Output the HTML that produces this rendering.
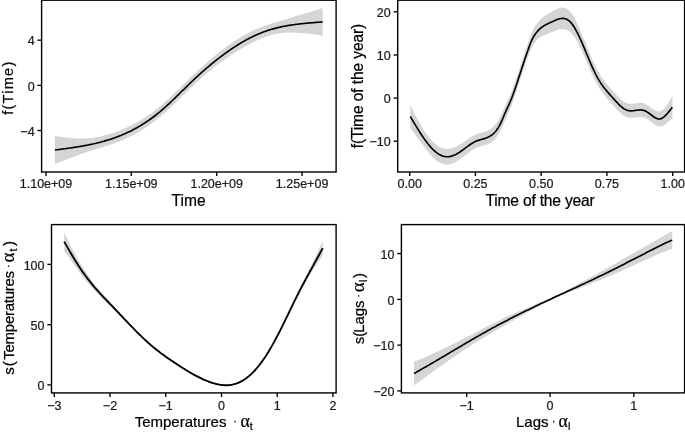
<!DOCTYPE html>
<html lang="en">
<head>
<meta charset="utf-8">
<title>Smooth effects</title>
<style>
html,body{margin:0;padding:0;background:#fff;}
body{width:685px;height:433px;overflow:hidden;}
svg{display:block;}
text{font-family:"Liberation Sans", sans-serif;}
.tk{font-size:12.5px;fill:#1a1a1a;stroke:#1a1a1a;stroke-width:0.22px;}
.tt{font-size:15.6px;fill:#000000;stroke:#000000;stroke-width:0.22px;}
.sub{font-size:11px;}
</style>
</head>
<body>
<svg width="685" height="433" viewBox="0 0 685 433">
<rect x="0" y="0" width="685" height="433" fill="#fff"/>
<polygon fill="#d5d5d5" points="54.9,135.8 55.9,136.0 56.9,136.2 57.9,136.3 58.9,136.5 59.9,136.7 60.9,136.8 61.9,137.0 62.9,137.1 63.9,137.2 64.9,137.4 65.9,137.5 66.9,137.6 67.9,137.7 68.9,137.8 69.9,137.9 70.9,138.0 71.9,138.1 72.9,138.1 73.9,138.2 74.9,138.3 75.9,138.3 76.9,138.4 77.9,138.4 78.9,138.5 79.9,138.5 80.9,138.5 81.9,138.5 82.9,138.5 83.9,138.5 84.9,138.4 85.9,138.4 86.9,138.3 87.9,138.2 88.9,138.2 89.9,138.1 90.9,137.9 91.9,137.8 92.9,137.7 93.9,137.6 94.9,137.4 95.9,137.3 96.9,137.1 97.9,136.9 98.9,136.7 99.9,136.5 100.9,136.3 101.9,136.1 102.9,135.8 103.9,135.6 104.9,135.3 105.9,135.1 106.9,134.8 107.9,134.5 108.9,134.2 109.9,133.9 110.9,133.6 111.9,133.3 112.9,132.9 113.9,132.6 114.9,132.2 115.9,131.9 116.9,131.5 117.9,131.1 118.9,130.8 119.9,130.4 120.9,130.0 121.9,129.6 122.9,129.1 123.9,128.7 124.9,128.3 125.9,127.8 126.9,127.4 127.9,126.9 128.9,126.4 129.9,126.0 130.9,125.5 131.9,125.0 132.9,124.5 133.9,123.9 134.9,123.4 135.9,122.9 136.9,122.3 137.9,121.7 138.9,121.2 139.9,120.6 140.9,120.0 141.9,119.4 142.9,118.8 143.9,118.1 144.9,117.5 145.9,116.8 146.9,116.2 147.9,115.5 148.9,114.8 149.9,114.1 150.9,113.4 151.9,112.7 152.9,111.9 153.9,111.2 154.9,110.4 155.9,109.7 156.9,108.9 157.9,108.1 158.9,107.3 159.9,106.4 160.9,105.6 161.9,104.7 162.9,103.9 163.9,103.0 164.9,102.1 165.9,101.2 166.9,100.3 167.9,99.4 168.9,98.5 169.9,97.5 170.9,96.6 171.9,95.6 172.9,94.7 173.9,93.7 174.9,92.8 175.9,91.8 176.9,90.8 177.9,89.8 178.9,88.9 179.9,87.9 180.9,86.9 181.9,85.9 182.9,84.9 183.9,84.0 184.9,83.0 185.9,82.0 186.9,81.0 187.9,80.0 188.9,79.1 189.9,78.1 190.9,77.1 191.9,76.2 192.9,75.2 193.9,74.3 194.9,73.3 195.9,72.4 196.9,71.5 197.9,70.6 198.9,69.6 199.9,68.7 200.9,67.8 201.9,66.9 202.9,66.0 203.9,65.2 204.9,64.3 205.9,63.4 206.9,62.5 207.9,61.6 208.9,60.8 209.9,59.9 210.9,59.0 211.9,58.2 212.9,57.3 213.9,56.5 214.9,55.7 215.9,54.8 216.9,54.0 217.9,53.2 218.9,52.4 219.9,51.6 220.9,50.8 221.9,50.1 222.9,49.3 223.9,48.5 224.9,47.8 225.9,47.0 226.9,46.3 227.9,45.6 228.9,44.9 229.9,44.2 230.9,43.5 231.9,42.8 232.9,42.1 233.9,41.5 234.9,40.8 235.9,40.1 236.9,39.5 237.9,38.9 238.9,38.2 239.9,37.6 240.9,37.0 241.9,36.4 242.9,35.9 243.9,35.3 244.9,34.7 245.9,34.2 246.9,33.6 247.9,33.1 248.9,32.5 249.9,32.0 250.9,31.5 251.9,31.0 252.9,30.6 253.9,30.1 254.9,29.7 255.9,29.2 256.9,28.8 257.9,28.4 258.9,28.0 259.9,27.6 260.9,27.2 261.9,26.9 262.9,26.5 263.9,26.1 264.9,25.8 265.9,25.4 266.9,25.1 267.9,24.7 268.9,24.4 269.9,24.1 270.9,23.8 271.9,23.5 272.9,23.2 273.9,22.9 274.9,22.6 275.9,22.3 276.9,22.0 277.9,21.7 278.9,21.4 279.9,21.1 280.9,20.8 281.9,20.5 282.9,20.2 283.9,19.9 284.9,19.6 285.9,19.2 286.9,18.9 287.9,18.6 288.9,18.3 289.9,18.0 290.9,17.7 291.9,17.4 292.9,17.1 293.9,16.8 294.9,16.5 295.9,16.1 296.9,15.8 297.9,15.5 298.9,15.2 299.9,14.9 300.9,14.6 301.9,14.3 302.9,14.0 303.9,13.7 304.9,13.4 305.9,13.2 306.9,12.9 307.9,12.6 308.9,12.3 309.9,12.0 310.9,11.7 311.9,11.4 312.9,11.2 313.9,10.9 314.9,10.6 315.9,10.3 316.9,9.9 317.9,9.6 318.9,9.3 319.9,8.9 320.9,8.6 321.9,8.2 322.7,7.9 322.7,35.9 321.9,35.7 320.9,35.5 319.9,35.3 318.9,35.1 317.9,35.0 316.9,34.8 315.9,34.6 314.9,34.5 313.9,34.4 312.9,34.2 311.9,34.1 310.9,34.0 309.9,33.9 308.9,33.8 307.9,33.7 306.9,33.6 305.9,33.5 304.9,33.4 303.9,33.3 302.9,33.2 301.9,33.1 300.9,33.0 299.9,32.9 298.9,32.9 297.9,32.8 296.9,32.7 295.9,32.7 294.9,32.6 293.9,32.6 292.9,32.6 291.9,32.5 290.9,32.5 289.9,32.5 288.9,32.6 287.9,32.6 286.9,32.6 285.9,32.7 284.9,32.7 283.9,32.8 282.9,32.9 281.9,33.0 280.9,33.1 279.9,33.3 278.9,33.4 277.9,33.6 276.9,33.7 275.9,33.9 274.9,34.1 273.9,34.4 272.9,34.6 271.9,34.9 270.9,35.2 269.9,35.5 268.9,35.8 267.9,36.1 266.9,36.5 265.9,36.8 264.9,37.2 263.9,37.5 262.9,37.9 261.9,38.3 260.9,38.8 259.9,39.2 258.9,39.6 257.9,40.1 256.9,40.6 255.9,41.0 254.9,41.5 253.9,42.0 252.9,42.5 251.9,43.0 250.9,43.5 249.9,44.0 248.9,44.5 247.9,45.1 246.9,45.6 245.9,46.1 244.9,46.7 243.9,47.3 242.9,47.8 241.9,48.4 240.9,49.0 239.9,49.6 238.9,50.2 237.9,50.8 236.9,51.4 235.9,52.0 234.9,52.7 233.9,53.3 232.9,54.0 231.9,54.6 230.9,55.3 229.9,56.0 228.9,56.6 227.9,57.3 226.9,58.0 225.9,58.7 224.9,59.4 223.9,60.1 222.9,60.8 221.9,61.6 220.9,62.3 219.9,63.0 218.9,63.8 217.9,64.5 216.9,65.3 215.9,66.0 214.9,66.8 213.9,67.6 212.9,68.4 211.9,69.2 210.9,70.0 209.9,70.8 208.9,71.6 207.9,72.4 206.9,73.2 205.9,74.1 204.9,74.9 203.9,75.8 202.9,76.7 201.9,77.6 200.9,78.4 199.9,79.3 198.9,80.2 197.9,81.2 196.9,82.1 195.9,83.0 194.9,83.9 193.9,84.9 192.9,85.8 191.9,86.8 190.9,87.7 189.9,88.7 188.9,89.7 187.9,90.7 186.9,91.6 185.9,92.6 184.9,93.6 183.9,94.6 182.9,95.6 181.9,96.5 180.9,97.5 179.9,98.5 178.9,99.5 177.9,100.5 176.9,101.4 175.9,102.4 174.9,103.4 173.9,104.4 172.9,105.3 171.9,106.3 170.9,107.2 169.9,108.2 168.9,109.1 167.9,110.0 166.9,111.0 165.9,111.9 164.9,112.8 163.9,113.7 162.9,114.5 161.9,115.4 160.9,116.3 159.9,117.1 158.9,117.9 157.9,118.7 156.9,119.5 155.9,120.3 154.9,121.1 153.9,121.9 152.9,122.6 151.9,123.4 150.9,124.1 149.9,124.8 148.9,125.5 147.9,126.2 146.9,126.9 145.9,127.6 144.9,128.2 143.9,128.9 142.9,129.5 141.9,130.1 140.9,130.7 139.9,131.3 138.9,131.9 137.9,132.5 136.9,133.1 135.9,133.6 134.9,134.2 133.9,134.7 132.9,135.2 131.9,135.8 130.9,136.3 129.9,136.8 128.9,137.3 127.9,137.7 126.9,138.2 125.9,138.7 124.9,139.1 123.9,139.6 122.9,140.0 121.9,140.4 120.9,140.8 119.9,141.2 118.9,141.6 117.9,142.0 116.9,142.4 115.9,142.8 114.9,143.2 113.9,143.5 112.9,143.9 111.9,144.2 110.9,144.6 109.9,144.9 108.9,145.2 107.9,145.6 106.9,145.9 105.9,146.2 104.9,146.5 103.9,146.8 102.9,147.1 101.9,147.4 100.9,147.7 99.9,148.1 98.9,148.4 97.9,148.7 96.9,149.0 95.9,149.3 94.9,149.6 93.9,149.9 92.9,150.2 91.9,150.5 90.9,150.9 89.9,151.2 88.9,151.5 87.9,151.8 86.9,152.1 85.9,152.4 84.9,152.7 83.9,153.1 82.9,153.4 81.9,153.7 80.9,154.1 79.9,154.5 78.9,154.8 77.9,155.2 76.9,155.6 75.9,155.9 74.9,156.3 73.9,156.7 72.9,157.0 71.9,157.4 70.9,157.8 69.9,158.1 68.9,158.5 67.9,158.9 66.9,159.3 65.9,159.7 64.9,160.1 63.9,160.5 62.9,160.9 61.9,161.3 60.9,161.7 59.9,162.1 58.9,162.5 57.9,162.9 56.9,163.4 55.9,163.8 54.9,164.2"/>
<polyline fill="none" stroke="#000" stroke-width="1.65" stroke-linejoin="round" points="54.9,150.0 55.9,149.9 56.9,149.8 57.9,149.6 58.9,149.5 59.9,149.4 60.9,149.2 61.9,149.1 62.9,149.0 63.9,148.8 64.9,148.7 65.9,148.6 66.9,148.4 67.9,148.3 68.9,148.2 69.9,148.0 70.9,147.9 71.9,147.7 72.9,147.6 73.9,147.4 74.9,147.3 75.9,147.1 76.9,147.0 77.9,146.8 78.9,146.6 79.9,146.5 80.9,146.3 81.9,146.1 82.9,146.0 83.9,145.8 84.9,145.6 85.9,145.4 86.9,145.2 87.9,145.0 88.9,144.8 89.9,144.6 90.9,144.4 91.9,144.2 92.9,144.0 93.9,143.7 94.9,143.5 95.9,143.3 96.9,143.0 97.9,142.8 98.9,142.6 99.9,142.3 100.9,142.0 101.9,141.8 102.9,141.5 103.9,141.2 104.9,140.9 105.9,140.6 106.9,140.3 107.9,140.0 108.9,139.7 109.9,139.4 110.9,139.1 111.9,138.7 112.9,138.4 113.9,138.1 114.9,137.7 115.9,137.3 116.9,137.0 117.9,136.6 118.9,136.2 119.9,135.8 120.9,135.4 121.9,135.0 122.9,134.6 123.9,134.1 124.9,133.7 125.9,133.2 126.9,132.8 127.9,132.3 128.9,131.8 129.9,131.4 130.9,130.9 131.9,130.4 132.9,129.8 133.9,129.3 134.9,128.8 135.9,128.2 136.9,127.7 137.9,127.1 138.9,126.5 139.9,126.0 140.9,125.4 141.9,124.7 142.9,124.1 143.9,123.5 144.9,122.9 145.9,122.2 146.9,121.5 147.9,120.9 148.9,120.2 149.9,119.5 150.9,118.8 151.9,118.0 152.9,117.3 153.9,116.5 154.9,115.8 155.9,115.0 156.9,114.2 157.9,113.4 158.9,112.6 159.9,111.8 160.9,110.9 161.9,110.1 162.9,109.2 163.9,108.3 164.9,107.4 165.9,106.5 166.9,105.6 167.9,104.7 168.9,103.8 169.9,102.8 170.9,101.9 171.9,101.0 172.9,100.0 173.9,99.0 174.9,98.1 175.9,97.1 176.9,96.1 177.9,95.2 178.9,94.2 179.9,93.2 180.9,92.2 181.9,91.2 182.9,90.2 183.9,89.3 184.9,88.3 185.9,87.3 186.9,86.3 187.9,85.3 188.9,84.4 189.9,83.4 190.9,82.4 191.9,81.5 192.9,80.5 193.9,79.6 194.9,78.6 195.9,77.7 196.9,76.8 197.9,75.9 198.9,74.9 199.9,74.0 200.9,73.1 201.9,72.2 202.9,71.4 203.9,70.5 204.9,69.6 205.9,68.7 206.9,67.9 207.9,67.0 208.9,66.2 209.9,65.3 210.9,64.5 211.9,63.7 212.9,62.9 213.9,62.0 214.9,61.2 215.9,60.4 216.9,59.7 217.9,58.9 218.9,58.1 219.9,57.3 220.9,56.6 221.9,55.8 222.9,55.1 223.9,54.3 224.9,53.6 225.9,52.9 226.9,52.2 227.9,51.5 228.9,50.8 229.9,50.1 230.9,49.4 231.9,48.7 232.9,48.0 233.9,47.4 234.9,46.7 235.9,46.1 236.9,45.5 237.9,44.8 238.9,44.2 239.9,43.6 240.9,43.0 241.9,42.4 242.9,41.8 243.9,41.3 244.9,40.7 245.9,40.1 246.9,39.6 247.9,39.1 248.9,38.5 249.9,38.0 250.9,37.5 251.9,37.0 252.9,36.5 253.9,36.1 254.9,35.6 255.9,35.1 256.9,34.7 257.9,34.2 258.9,33.8 259.9,33.4 260.9,33.0 261.9,32.6 262.9,32.2 263.9,31.8 264.9,31.5 265.9,31.1 266.9,30.8 267.9,30.4 268.9,30.1 269.9,29.8 270.9,29.5 271.9,29.2 272.9,28.9 273.9,28.6 274.9,28.4 275.9,28.1 276.9,27.9 277.9,27.6 278.9,27.4 279.9,27.2 280.9,26.9 281.9,26.7 282.9,26.5 283.9,26.3 284.9,26.1 285.9,26.0 286.9,25.8 287.9,25.6 288.9,25.4 289.9,25.3 290.9,25.1 291.9,25.0 292.9,24.8 293.9,24.7 294.9,24.5 295.9,24.4 296.9,24.3 297.9,24.2 298.9,24.0 299.9,23.9 300.9,23.8 301.9,23.7 302.9,23.6 303.9,23.5 304.9,23.4 305.9,23.3 306.9,23.2 307.9,23.1 308.9,23.0 309.9,22.9 310.9,22.9 311.9,22.8 312.9,22.7 313.9,22.6 314.9,22.5 315.9,22.4 316.9,22.4 317.9,22.3 318.9,22.2 319.9,22.1 320.9,22.0 321.9,22.0 322.7,21.9"/>
<polygon fill="#d5d5d5" points="410.3,104.8 411.3,106.9 412.3,109.1 413.3,111.1 414.3,113.2 415.3,115.2 416.3,117.1 417.3,119.0 418.3,120.8 419.3,122.6 420.3,124.3 421.3,126.0 422.3,127.7 423.3,129.3 424.3,130.9 425.3,132.3 426.3,133.7 427.3,135.0 428.3,136.3 429.3,137.5 430.3,138.7 431.3,139.8 432.3,140.9 433.3,141.9 434.3,142.9 435.3,143.8 436.3,144.6 437.3,145.4 438.3,146.0 439.3,146.7 440.3,147.2 441.3,147.7 442.3,148.1 443.3,148.4 444.3,148.6 445.3,148.8 446.3,148.9 447.3,148.9 448.3,148.9 449.3,148.8 450.3,148.6 451.3,148.4 452.3,148.2 453.3,147.9 454.3,147.5 455.3,147.1 456.3,146.6 457.3,146.1 458.3,145.6 459.3,145.0 460.3,144.4 461.3,143.7 462.3,143.1 463.3,142.4 464.3,141.7 465.3,141.0 466.3,140.3 467.3,139.5 468.3,138.8 469.3,138.1 470.3,137.5 471.3,136.8 472.3,136.2 473.3,135.7 474.3,135.1 475.3,134.7 476.3,134.2 477.3,133.9 478.3,133.5 479.3,133.2 480.3,132.9 481.3,132.7 482.3,132.4 483.3,132.1 484.3,131.8 485.3,131.5 486.3,131.1 487.3,130.7 488.3,130.2 489.3,129.7 490.3,129.1 491.3,128.4 492.3,127.6 493.3,126.7 494.3,125.7 495.3,124.6 496.3,123.4 497.3,122.0 498.3,120.4 499.3,118.7 500.3,116.8 501.3,114.6 502.3,112.4 503.3,110.0 504.3,107.7 505.3,105.4 506.3,103.3 507.3,101.2 508.3,99.0 509.3,96.9 510.3,94.6 511.3,92.2 512.3,89.7 513.3,87.0 514.3,84.2 515.3,81.3 516.3,78.4 517.3,75.4 518.3,72.3 519.3,69.2 520.3,66.1 521.3,63.0 522.3,59.9 523.3,56.8 524.3,53.7 525.3,50.7 526.3,47.8 527.3,44.9 528.3,42.0 529.3,39.1 530.3,36.3 531.3,33.8 532.3,31.4 533.3,29.4 534.3,27.6 535.3,26.0 536.3,24.5 537.3,23.1 538.3,21.9 539.3,20.7 540.3,19.6 541.3,18.6 542.3,17.7 543.3,16.9 544.3,16.1 545.3,15.4 546.3,14.8 547.3,14.2 548.3,13.6 549.3,13.0 550.3,12.5 551.3,11.9 552.3,11.4 553.3,10.8 554.3,10.3 555.3,9.8 556.3,9.3 557.3,8.8 558.3,8.4 559.3,8.1 560.3,7.8 561.3,7.7 562.3,7.6 563.3,7.6 564.3,7.8 565.3,8.1 566.3,8.6 567.3,9.1 568.3,9.9 569.3,10.8 570.3,11.8 571.3,13.0 572.3,14.5 573.3,16.1 574.3,17.8 575.3,19.7 576.3,21.7 577.3,23.8 578.3,26.0 579.3,28.2 580.3,30.5 581.3,32.9 582.3,35.2 583.3,37.6 584.3,40.1 585.3,42.5 586.3,45.0 587.3,47.5 588.3,49.9 589.3,52.3 590.3,54.7 591.3,57.1 592.3,59.4 593.3,61.7 594.3,63.9 595.3,66.0 596.3,68.1 597.3,70.0 598.3,71.8 599.3,73.6 600.3,75.2 601.3,76.7 602.3,78.2 603.3,79.6 604.3,80.9 605.3,82.2 606.3,83.4 607.3,84.6 608.3,85.8 609.3,86.9 610.3,88.1 611.3,89.2 612.3,90.3 613.3,91.4 614.3,92.5 615.3,93.6 616.3,94.7 617.3,95.7 618.3,96.8 619.3,97.8 620.3,98.8 621.3,99.7 622.3,100.5 623.3,101.3 624.3,102.0 625.3,102.5 626.3,103.0 627.3,103.3 628.3,103.6 629.3,103.7 630.3,103.8 631.3,103.8 632.3,103.7 633.3,103.6 634.3,103.5 635.3,103.3 636.3,103.2 637.3,103.0 638.3,102.9 639.3,102.8 640.3,102.7 641.3,102.8 642.3,102.9 643.3,103.1 644.3,103.4 645.3,103.9 646.3,104.4 647.3,105.1 648.3,105.8 649.3,106.5 650.3,107.3 651.3,108.0 652.3,108.8 653.3,109.4 654.3,110.0 655.3,110.6 656.3,111.0 657.3,111.3 658.3,111.5 659.3,111.4 660.3,111.2 661.3,110.8 662.3,110.1 663.3,109.3 664.3,108.3 665.3,107.2 666.3,106.0 667.3,104.6 668.3,103.2 669.3,101.6 670.3,99.8 671.3,98.0 672.3,96.1 672.4,95.9 672.4,118.7 672.3,118.7 671.3,119.3 670.3,119.9 669.3,120.7 668.3,121.5 667.3,122.5 666.3,123.4 665.3,124.2 664.3,125.0 663.3,125.6 662.3,126.1 661.3,126.4 660.3,126.5 659.3,126.5 658.3,126.3 657.3,126.0 656.3,125.5 655.3,125.0 654.3,124.3 653.3,123.6 652.3,122.8 651.3,122.0 650.3,121.3 649.3,120.5 648.3,119.8 647.3,119.1 646.3,118.6 645.3,118.1 644.3,117.7 643.3,117.4 642.3,117.2 641.3,117.2 640.3,117.1 639.3,117.2 638.3,117.2 637.3,117.3 636.3,117.4 635.3,117.5 634.3,117.6 633.3,117.7 632.3,117.8 631.3,117.8 630.3,117.8 629.3,117.7 628.3,117.6 627.3,117.3 626.3,117.0 625.3,116.5 624.3,116.0 623.3,115.3 622.3,114.5 621.3,113.7 620.3,112.8 619.3,111.8 618.3,110.8 617.3,109.7 616.3,108.7 615.3,107.6 614.3,106.5 613.3,105.4 612.3,104.3 611.3,103.2 610.3,102.1 609.3,100.9 608.3,99.8 607.3,98.6 606.3,97.5 605.3,96.3 604.3,95.1 603.3,93.8 602.3,92.4 601.3,91.0 600.3,89.6 599.3,88.0 598.3,86.4 597.3,84.7 596.3,82.8 595.3,80.9 594.3,78.9 593.3,76.9 592.3,74.7 591.3,72.5 590.3,70.3 589.3,68.0 588.3,65.7 587.3,63.4 586.3,61.0 585.3,58.7 584.3,56.4 583.3,54.1 582.3,51.8 581.3,49.6 580.3,47.5 579.3,45.4 578.3,43.4 577.3,41.6 576.3,39.9 575.3,38.3 574.3,36.8 573.3,35.4 572.3,34.2 571.3,33.1 570.3,32.1 569.3,31.3 568.3,30.6 567.3,30.1 566.3,29.7 565.3,29.4 564.3,29.3 563.3,29.2 562.3,29.2 561.3,29.3 560.3,29.4 559.3,29.6 558.3,29.8 557.3,30.1 556.3,30.4 555.3,30.8 554.3,31.2 553.3,31.6 552.3,32.0 551.3,32.4 550.3,32.8 549.3,33.1 548.3,33.5 547.3,33.9 546.3,34.3 545.3,34.7 544.3,35.1 543.3,35.6 542.3,36.1 541.3,36.7 540.3,37.4 539.3,38.1 538.3,38.9 537.3,39.8 536.3,40.9 535.3,42.0 534.3,43.4 533.3,45.0 532.3,46.8 531.3,48.8 530.3,51.2 529.3,53.7 528.3,56.4 527.3,59.1 526.3,61.9 525.3,64.8 524.3,67.7 523.3,70.7 522.3,73.7 521.3,76.8 520.3,79.8 519.3,82.9 518.3,86.0 517.3,89.0 516.3,92.0 515.3,94.9 514.3,97.8 513.3,100.6 512.3,103.3 511.3,105.9 510.3,108.4 509.3,110.7 508.3,113.0 507.3,115.2 506.3,117.4 505.3,119.6 504.3,121.9 503.3,124.3 502.3,126.7 501.3,129.0 500.3,131.2 499.3,133.1 498.3,134.8 497.3,136.3 496.3,137.6 495.3,138.8 494.3,139.9 493.3,140.8 492.3,141.6 491.3,142.3 490.3,142.9 489.3,143.5 488.3,143.9 487.3,144.4 486.3,144.7 485.3,145.1 484.3,145.4 483.3,145.7 482.3,146.0 481.3,146.3 480.3,146.6 479.3,146.9 478.3,147.2 477.3,147.6 476.3,148.0 475.3,148.5 474.3,149.0 473.3,149.5 472.3,150.1 471.3,150.8 470.3,151.5 469.3,152.2 468.3,152.9 467.3,153.7 466.3,154.4 465.3,155.2 464.3,156.0 463.3,156.8 462.3,157.6 461.3,158.3 460.3,159.1 459.3,159.8 458.3,160.5 457.3,161.1 456.3,161.7 455.3,162.2 454.3,162.7 453.3,163.2 452.3,163.5 451.3,163.9 450.3,164.1 449.3,164.3 448.3,164.5 447.3,164.5 446.3,164.5 445.3,164.4 444.3,164.3 443.3,164.0 442.3,163.7 441.3,163.3 440.3,162.9 439.3,162.3 438.3,161.7 437.3,161.0 436.3,160.3 435.3,159.5 434.3,158.6 433.3,157.6 432.3,156.6 431.3,155.6 430.3,154.5 429.3,153.3 428.3,152.1 427.3,150.8 426.3,149.5 425.3,148.2 424.3,146.9 423.3,145.6 422.3,144.2 421.3,142.9 420.3,141.6 419.3,140.2 418.3,138.8 417.3,137.4 416.3,136.1 415.3,134.7 414.3,133.4 413.3,132.0 412.3,130.7 411.3,129.5 410.3,128.2"/>
<polyline fill="none" stroke="#000" stroke-width="1.65" stroke-linejoin="round" points="410.3,116.5 411.3,118.2 412.3,119.9 413.3,121.6 414.3,123.3 415.3,124.9 416.3,126.6 417.3,128.2 418.3,129.8 419.3,131.4 420.3,133.0 421.3,134.5 422.3,136.0 423.3,137.4 424.3,138.9 425.3,140.3 426.3,141.6 427.3,142.9 428.3,144.2 429.3,145.4 430.3,146.6 431.3,147.7 432.3,148.8 433.3,149.8 434.3,150.7 435.3,151.6 436.3,152.4 437.3,153.2 438.3,153.9 439.3,154.5 440.3,155.0 441.3,155.5 442.3,155.9 443.3,156.2 444.3,156.5 445.3,156.6 446.3,156.7 447.3,156.7 448.3,156.7 449.3,156.6 450.3,156.4 451.3,156.2 452.3,155.9 453.3,155.5 454.3,155.1 455.3,154.7 456.3,154.2 457.3,153.6 458.3,153.0 459.3,152.4 460.3,151.7 461.3,151.0 462.3,150.3 463.3,149.6 464.3,148.8 465.3,148.1 466.3,147.4 467.3,146.6 468.3,145.9 469.3,145.2 470.3,144.5 471.3,143.8 472.3,143.2 473.3,142.6 474.3,142.0 475.3,141.6 476.3,141.1 477.3,140.7 478.3,140.4 479.3,140.1 480.3,139.8 481.3,139.5 482.3,139.2 483.3,138.9 484.3,138.6 485.3,138.3 486.3,137.9 487.3,137.5 488.3,137.1 489.3,136.6 490.3,136.0 491.3,135.3 492.3,134.6 493.3,133.8 494.3,132.8 495.3,131.7 496.3,130.5 497.3,129.1 498.3,127.6 499.3,125.9 500.3,124.0 501.3,121.8 502.3,119.6 503.3,117.2 504.3,114.8 505.3,112.5 506.3,110.3 507.3,108.2 508.3,106.0 509.3,103.8 510.3,101.5 511.3,99.1 512.3,96.5 513.3,93.8 514.3,91.0 515.3,88.1 516.3,85.2 517.3,82.2 518.3,79.1 519.3,76.1 520.3,73.0 521.3,69.9 522.3,66.8 523.3,63.7 524.3,60.7 525.3,57.8 526.3,54.9 527.3,52.0 528.3,49.2 529.3,46.4 530.3,43.8 531.3,41.3 532.3,39.1 533.3,37.2 534.3,35.5 535.3,34.0 536.3,32.7 537.3,31.5 538.3,30.4 539.3,29.4 540.3,28.5 541.3,27.7 542.3,26.9 543.3,26.3 544.3,25.6 545.3,25.1 546.3,24.5 547.3,24.0 548.3,23.5 549.3,23.1 550.3,22.6 551.3,22.1 552.3,21.7 553.3,21.2 554.3,20.7 555.3,20.3 556.3,19.9 557.3,19.5 558.3,19.1 559.3,18.8 560.3,18.6 561.3,18.5 562.3,18.4 563.3,18.4 564.3,18.5 565.3,18.8 566.3,19.1 567.3,19.6 568.3,20.3 569.3,21.0 570.3,22.0 571.3,23.1 572.3,24.3 573.3,25.7 574.3,27.3 575.3,29.0 576.3,30.8 577.3,32.7 578.3,34.7 579.3,36.8 580.3,39.0 581.3,41.2 582.3,43.5 583.3,45.9 584.3,48.2 585.3,50.6 586.3,53.0 587.3,55.4 588.3,57.8 589.3,60.2 590.3,62.5 591.3,64.8 592.3,67.1 593.3,69.3 594.3,71.4 595.3,73.5 596.3,75.5 597.3,77.3 598.3,79.1 599.3,80.8 600.3,82.4 601.3,83.9 602.3,85.3 603.3,86.7 604.3,88.0 605.3,89.2 606.3,90.4 607.3,91.6 608.3,92.8 609.3,93.9 610.3,95.1 611.3,96.2 612.3,97.3 613.3,98.4 614.3,99.5 615.3,100.6 616.3,101.7 617.3,102.7 618.3,103.8 619.3,104.8 620.3,105.8 621.3,106.7 622.3,107.5 623.3,108.3 624.3,109.0 625.3,109.5 626.3,110.0 627.3,110.3 628.3,110.6 629.3,110.7 630.3,110.8 631.3,110.8 632.3,110.8 633.3,110.7 634.3,110.6 635.3,110.4 636.3,110.3 637.3,110.2 638.3,110.1 639.3,110.0 640.3,109.9 641.3,110.0 642.3,110.1 643.3,110.3 644.3,110.6 645.3,111.0 646.3,111.5 647.3,112.1 648.3,112.8 649.3,113.5 650.3,114.3 651.3,115.0 652.3,115.8 653.3,116.5 654.3,117.2 655.3,117.8 656.3,118.3 657.3,118.7 658.3,118.9 659.3,119.0 660.3,118.9 661.3,118.6 662.3,118.1 663.3,117.4 664.3,116.6 665.3,115.7 666.3,114.7 667.3,113.5 668.3,112.4 669.3,111.1 670.3,109.9 671.3,108.6 672.3,107.4 672.4,107.3"/>
<polygon fill="#d5d5d5" points="64.2,232.0 65.2,234.2 66.2,236.4 67.2,238.5 68.2,240.7 69.2,242.7 70.2,244.8 71.2,246.9 72.2,248.9 73.2,250.8 74.2,252.7 75.2,254.6 76.2,256.4 77.2,258.1 78.2,259.9 79.2,261.6 80.2,263.2 81.2,264.8 82.2,266.4 83.2,268.0 84.2,269.5 85.2,271.0 86.2,272.5 87.2,273.9 88.2,275.4 89.2,276.8 90.2,278.2 91.2,279.5 92.2,280.9 93.2,282.2 94.2,283.5 95.2,284.7 96.2,286.0 97.2,287.2 98.2,288.4 99.2,289.6 100.2,290.8 101.2,291.9 102.2,293.1 103.2,294.2 104.2,295.4 105.2,296.5 106.2,297.6 107.2,298.7 108.2,299.8 109.2,300.9 110.2,302.0 111.2,303.1 112.2,304.2 113.2,305.3 114.2,306.4 115.2,307.5 116.2,308.6 117.2,309.7 118.2,310.8 119.2,311.9 120.2,313.0 121.2,314.1 122.2,315.2 123.2,316.3 124.2,317.3 125.2,318.4 126.2,319.5 127.2,320.6 128.2,321.6 129.2,322.7 130.2,323.7 131.2,324.8 132.2,325.9 133.2,326.9 134.2,327.9 135.2,329.0 136.2,330.0 137.2,331.0 138.2,332.0 139.2,333.0 140.2,334.0 141.2,335.0 142.2,336.0 143.2,337.0 144.2,337.9 145.2,338.9 146.2,339.8 147.2,340.7 148.2,341.7 149.2,342.6 150.2,343.4 151.2,344.3 152.2,345.2 153.2,346.0 154.2,346.9 155.2,347.7 156.2,348.5 157.2,349.3 158.2,350.1 159.2,350.8 160.2,351.6 161.2,352.4 162.2,353.1 163.2,353.8 164.2,354.6 165.2,355.3 166.2,356.0 167.2,356.7 168.2,357.4 169.2,358.1 170.2,358.8 171.2,359.5 172.2,360.1 173.2,360.8 174.2,361.5 175.2,362.2 176.2,362.8 177.2,363.5 178.2,364.2 179.2,364.8 180.2,365.5 181.2,366.1 182.2,366.8 183.2,367.4 184.2,368.0 185.2,368.7 186.2,369.3 187.2,369.9 188.2,370.5 189.2,371.1 190.2,371.7 191.2,372.3 192.2,372.9 193.2,373.4 194.2,374.0 195.2,374.5 196.2,375.1 197.2,375.6 198.2,376.1 199.2,376.6 200.2,377.1 201.2,377.6 202.2,378.1 203.2,378.5 204.2,379.0 205.2,379.4 206.2,379.8 207.2,380.2 208.2,380.6 209.2,381.0 210.2,381.4 211.2,381.7 212.2,382.0 213.2,382.3 214.2,382.6 215.2,382.9 216.2,383.2 217.2,383.4 218.2,383.6 219.2,383.8 220.2,384.0 221.2,384.1 222.2,384.2 223.2,384.3 224.2,384.4 225.2,384.4 226.2,384.4 227.2,384.4 228.2,384.4 229.2,384.3 230.2,384.2 231.2,384.0 232.2,383.8 233.2,383.6 234.2,383.4 235.2,383.1 236.2,382.8 237.2,382.4 238.2,382.0 239.2,381.6 240.2,381.1 241.2,380.6 242.2,380.0 243.2,379.4 244.2,378.8 245.2,378.1 246.2,377.4 247.2,376.6 248.2,375.8 249.2,375.0 250.2,374.1 251.2,373.1 252.2,372.2 253.2,371.1 254.2,370.1 255.2,369.0 256.2,367.9 257.2,366.7 258.2,365.5 259.2,364.2 260.2,362.9 261.2,361.6 262.2,360.2 263.2,358.8 264.2,357.3 265.2,355.8 266.2,354.3 267.2,352.7 268.2,351.1 269.2,349.4 270.2,347.7 271.2,346.0 272.2,344.2 273.2,342.4 274.2,340.6 275.2,338.7 276.2,336.8 277.2,334.9 278.2,333.0 279.2,331.0 280.2,329.0 281.2,327.0 282.2,325.0 283.2,322.9 284.2,320.9 285.2,318.8 286.2,316.7 287.2,314.6 288.2,312.5 289.2,310.4 290.2,308.3 291.2,306.2 292.2,304.1 293.2,302.0 294.2,299.9 295.2,297.8 296.2,295.7 297.2,293.6 298.2,291.6 299.2,289.5 300.2,287.5 301.2,285.5 302.2,283.5 303.2,281.5 304.2,279.5 305.2,277.5 306.2,275.6 307.2,273.6 308.2,271.6 309.2,269.6 310.2,267.6 311.2,265.6 312.2,263.5 313.2,261.4 314.2,259.3 315.2,257.2 316.2,255.1 317.2,252.9 318.2,250.8 319.2,248.6 320.2,246.4 321.2,244.1 322.2,241.9 322.7,240.7 322.7,255.7 322.2,256.4 321.2,257.9 320.2,259.3 319.2,260.8 318.2,262.2 317.2,263.7 316.2,265.2 315.2,266.7 314.2,268.2 313.2,269.7 312.2,271.3 311.2,272.8 310.2,274.5 309.2,276.1 308.2,277.8 307.2,279.5 306.2,281.2 305.2,282.9 304.2,284.7 303.2,286.5 302.2,288.3 301.2,290.1 300.2,292.0 299.2,293.8 298.2,295.7 297.2,297.7 296.2,299.6 295.2,301.6 294.2,303.5 293.2,305.5 292.2,307.5 291.2,309.5 290.2,311.6 289.2,313.6 288.2,315.6 287.2,317.6 286.2,319.6 285.2,321.7 284.2,323.7 283.2,325.7 282.2,327.7 281.2,329.7 280.2,331.6 279.2,333.6 278.2,335.5 277.2,337.4 276.2,339.3 275.2,341.1 274.2,343.0 273.2,344.8 272.2,346.5 271.2,348.3 270.2,350.0 269.2,351.7 268.2,353.3 267.2,354.9 266.2,356.4 265.2,358.0 264.2,359.4 263.2,360.9 262.2,362.3 261.2,363.6 260.2,364.9 259.2,366.2 258.2,367.4 257.2,368.6 256.2,369.8 255.2,370.9 254.2,372.0 253.2,373.0 252.2,374.0 251.2,375.0 250.2,375.9 249.2,376.8 248.2,377.6 247.2,378.4 246.2,379.1 245.2,379.8 244.2,380.5 243.2,381.1 242.2,381.7 241.2,382.3 240.2,382.8 239.2,383.2 238.2,383.7 237.2,384.1 236.2,384.4 235.2,384.7 234.2,385.0 233.2,385.2 232.2,385.5 231.2,385.6 230.2,385.8 229.2,385.9 228.2,386.0 227.2,386.0 226.2,386.0 225.2,386.0 224.2,386.0 223.2,385.9 222.2,385.8 221.2,385.7 220.2,385.6 219.2,385.4 218.2,385.2 217.2,385.0 216.2,384.8 215.2,384.5 214.2,384.3 213.2,384.0 212.2,383.7 211.2,383.3 210.2,383.0 209.2,382.6 208.2,382.3 207.2,381.9 206.2,381.5 205.2,381.0 204.2,380.6 203.2,380.2 202.2,379.7 201.2,379.3 200.2,378.8 199.2,378.3 198.2,377.8 197.2,377.3 196.2,376.8 195.2,376.2 194.2,375.7 193.2,375.1 192.2,374.6 191.2,374.0 190.2,373.4 189.2,372.8 188.2,372.2 187.2,371.6 186.2,371.0 185.2,370.4 184.2,369.8 183.2,369.2 182.2,368.6 181.2,367.9 180.2,367.3 179.2,366.6 178.2,366.0 177.2,365.3 176.2,364.7 175.2,364.0 174.2,363.3 173.2,362.7 172.2,362.0 171.2,361.3 170.2,360.7 169.2,360.0 168.2,359.3 167.2,358.6 166.2,357.9 165.2,357.2 164.2,356.5 163.2,355.8 162.2,355.1 161.2,354.3 160.2,353.6 159.2,352.9 158.2,352.1 157.2,351.3 156.2,350.5 155.2,349.7 154.2,348.9 153.2,348.1 152.2,347.3 151.2,346.5 150.2,345.6 149.2,344.7 148.2,343.8 147.2,343.0 146.2,342.1 145.2,341.1 144.2,340.2 143.2,339.3 142.2,338.3 141.2,337.4 140.2,336.4 139.2,335.5 138.2,334.5 137.2,333.5 136.2,332.5 135.2,331.5 134.2,330.5 133.2,329.5 132.2,328.5 131.2,327.5 130.2,326.5 129.2,325.5 128.2,324.4 127.2,323.4 126.2,322.4 125.2,321.4 124.2,320.3 123.2,319.3 122.2,318.3 121.2,317.2 120.2,316.2 119.2,315.2 118.2,314.1 117.2,313.1 116.2,312.1 115.2,311.1 114.2,310.1 113.2,309.1 112.2,308.1 111.2,307.1 110.2,306.1 109.2,305.2 108.2,304.2 107.2,303.2 106.2,302.3 105.2,301.3 104.2,300.3 103.2,299.3 102.2,298.4 101.2,297.4 100.2,296.4 99.2,295.3 98.2,294.3 97.2,293.3 96.2,292.2 95.2,291.2 94.2,290.1 93.2,289.0 92.2,287.9 91.2,286.8 90.2,285.7 89.2,284.5 88.2,283.4 87.2,282.2 86.2,281.0 85.2,279.8 84.2,278.5 83.2,277.2 82.2,275.9 81.2,274.6 80.2,273.3 79.2,271.9 78.2,270.5 77.2,269.1 76.2,267.7 75.2,266.3 74.2,264.9 73.2,263.5 72.2,262.1 71.2,260.7 70.2,259.4 69.2,258.0 68.2,256.6 67.2,255.3 66.2,253.9 65.2,252.6 64.2,251.2"/>
<polyline fill="none" stroke="#000" stroke-width="1.8499999999999999" stroke-linejoin="round" points="64.2,241.6 65.2,243.4 66.2,245.1 67.2,246.9 68.2,248.6 69.2,250.4 70.2,252.1 71.2,253.8 72.2,255.5 73.2,257.2 74.2,258.8 75.2,260.4 76.2,262.0 77.2,263.6 78.2,265.2 79.2,266.7 80.2,268.2 81.2,269.7 82.2,271.2 83.2,272.6 84.2,274.0 85.2,275.4 86.2,276.7 87.2,278.1 88.2,279.4 89.2,280.7 90.2,281.9 91.2,283.2 92.2,284.4 93.2,285.6 94.2,286.8 95.2,288.0 96.2,289.1 97.2,290.2 98.2,291.4 99.2,292.5 100.2,293.6 101.2,294.7 102.2,295.7 103.2,296.8 104.2,297.8 105.2,298.9 106.2,299.9 107.2,301.0 108.2,302.0 109.2,303.0 110.2,304.1 111.2,305.1 112.2,306.2 113.2,307.2 114.2,308.3 115.2,309.3 116.2,310.4 117.2,311.4 118.2,312.5 119.2,313.5 120.2,314.6 121.2,315.7 122.2,316.7 123.2,317.8 124.2,318.8 125.2,319.9 126.2,320.9 127.2,322.0 128.2,323.0 129.2,324.1 130.2,325.1 131.2,326.2 132.2,327.2 133.2,328.2 134.2,329.2 135.2,330.3 136.2,331.3 137.2,332.3 138.2,333.3 139.2,334.3 140.2,335.2 141.2,336.2 142.2,337.2 143.2,338.1 144.2,339.1 145.2,340.0 146.2,340.9 147.2,341.8 148.2,342.8 149.2,343.6 150.2,344.5 151.2,345.4 152.2,346.2 153.2,347.1 154.2,347.9 155.2,348.7 156.2,349.5 157.2,350.3 158.2,351.1 159.2,351.8 160.2,352.6 161.2,353.4 162.2,354.1 163.2,354.8 164.2,355.5 165.2,356.3 166.2,357.0 167.2,357.7 168.2,358.4 169.2,359.0 170.2,359.7 171.2,360.4 172.2,361.1 173.2,361.8 174.2,362.4 175.2,363.1 176.2,363.8 177.2,364.4 178.2,365.1 179.2,365.7 180.2,366.4 181.2,367.0 182.2,367.7 183.2,368.3 184.2,368.9 185.2,369.5 186.2,370.2 187.2,370.8 188.2,371.4 189.2,372.0 190.2,372.6 191.2,373.1 192.2,373.7 193.2,374.3 194.2,374.8 195.2,375.4 196.2,375.9 197.2,376.4 198.2,376.9 199.2,377.4 200.2,377.9 201.2,378.4 202.2,378.9 203.2,379.3 204.2,379.8 205.2,380.2 206.2,380.6 207.2,381.0 208.2,381.4 209.2,381.8 210.2,382.2 211.2,382.5 212.2,382.8 213.2,383.2 214.2,383.4 215.2,383.7 216.2,384.0 217.2,384.2 218.2,384.4 219.2,384.6 220.2,384.8 221.2,384.9 222.2,385.0 223.2,385.1 224.2,385.2 225.2,385.2 226.2,385.2 227.2,385.2 228.2,385.2 229.2,385.1 230.2,385.0 231.2,384.8 232.2,384.6 233.2,384.4 234.2,384.2 235.2,383.9 236.2,383.6 237.2,383.2 238.2,382.8 239.2,382.4 240.2,381.9 241.2,381.4 242.2,380.9 243.2,380.3 244.2,379.6 245.2,379.0 246.2,378.3 247.2,377.5 248.2,376.7 249.2,375.9 250.2,375.0 251.2,374.1 252.2,373.1 253.2,372.1 254.2,371.0 255.2,370.0 256.2,368.8 257.2,367.7 258.2,366.5 259.2,365.2 260.2,363.9 261.2,362.6 262.2,361.2 263.2,359.8 264.2,358.4 265.2,356.9 266.2,355.4 267.2,353.8 268.2,352.2 269.2,350.5 270.2,348.8 271.2,347.1 272.2,345.4 273.2,343.6 274.2,341.8 275.2,339.9 276.2,338.0 277.2,336.1 278.2,334.2 279.2,332.3 280.2,330.3 281.2,328.3 282.2,326.3 283.2,324.3 284.2,322.3 285.2,320.2 286.2,318.2 287.2,316.1 288.2,314.1 289.2,312.0 290.2,309.9 291.2,307.9 292.2,305.8 293.2,303.7 294.2,301.7 295.2,299.7 296.2,297.6 297.2,295.6 298.2,293.7 299.2,291.7 300.2,289.7 301.2,287.8 302.2,285.9 303.2,284.0 304.2,282.1 305.2,280.2 306.2,278.4 307.2,276.5 308.2,274.7 309.2,272.9 310.2,271.0 311.2,269.2 312.2,267.4 313.2,265.6 314.2,263.7 315.2,261.9 316.2,260.1 317.2,258.3 318.2,256.5 319.2,254.7 320.2,252.8 321.2,251.0 322.2,249.2 322.7,248.2"/>
<polygon fill="#d5d5d5" points="414.0,361.5 415.0,361.1 416.0,360.7 417.0,360.4 418.0,360.0 419.0,359.6 420.0,359.2 421.0,358.8 422.0,358.4 423.0,358.0 424.0,357.6 425.0,357.1 426.0,356.7 427.0,356.3 428.0,355.9 429.0,355.4 430.0,355.0 431.0,354.5 432.0,354.1 433.0,353.6 434.0,353.2 435.0,352.7 436.0,352.3 437.0,351.8 438.0,351.3 439.0,350.9 440.0,350.4 441.0,349.9 442.0,349.5 443.0,349.0 444.0,348.5 445.0,348.0 446.0,347.5 447.0,347.0 448.0,346.5 449.0,346.1 450.0,345.6 451.0,345.1 452.0,344.6 453.0,344.1 454.0,343.6 455.0,343.1 456.0,342.6 457.0,342.0 458.0,341.5 459.0,341.0 460.0,340.5 461.0,340.0 462.0,339.5 463.0,339.0 464.0,338.5 465.0,338.0 466.0,337.5 467.0,337.0 468.0,336.4 469.0,335.9 470.0,335.4 471.0,334.9 472.0,334.4 473.0,333.9 474.0,333.3 475.0,332.8 476.0,332.3 477.0,331.8 478.0,331.2 479.0,330.7 480.0,330.2 481.0,329.7 482.0,329.1 483.0,328.6 484.0,328.1 485.0,327.5 486.0,327.0 487.0,326.5 488.0,326.0 489.0,325.4 490.0,324.9 491.0,324.4 492.0,323.9 493.0,323.4 494.0,322.9 495.0,322.4 496.0,321.9 497.0,321.4 498.0,320.9 499.0,320.4 500.0,319.9 501.0,319.4 502.0,318.9 503.0,318.5 504.0,318.0 505.0,317.5 506.0,317.1 507.0,316.6 508.0,316.2 509.0,315.7 510.0,315.3 511.0,314.8 512.0,314.4 513.0,313.9 514.0,313.5 515.0,313.1 516.0,312.6 517.0,312.2 518.0,311.8 519.0,311.3 520.0,310.9 521.0,310.5 522.0,310.0 523.0,309.6 524.0,309.2 525.0,308.8 526.0,308.3 527.0,307.9 528.0,307.5 529.0,307.1 530.0,306.7 531.0,306.3 532.0,305.8 533.0,305.4 534.0,305.0 535.0,304.6 536.0,304.2 537.0,303.8 538.0,303.3 539.0,302.9 540.0,302.5 541.0,302.1 542.0,301.7 543.0,301.2 544.0,300.8 545.0,300.4 546.0,300.0 547.0,299.5 548.0,299.1 549.0,298.7 550.0,298.2 551.0,297.7 552.0,297.3 553.0,296.8 554.0,296.3 555.0,295.8 556.0,295.3 557.0,294.8 558.0,294.3 559.0,293.9 560.0,293.4 561.0,292.9 562.0,292.4 563.0,291.9 564.0,291.4 565.0,290.9 566.0,290.4 567.0,289.8 568.0,289.3 569.0,288.8 570.0,288.3 571.0,287.8 572.0,287.2 573.0,286.7 574.0,286.2 575.0,285.7 576.0,285.1 577.0,284.6 578.0,284.1 579.0,283.5 580.0,283.0 581.0,282.5 582.0,281.9 583.0,281.4 584.0,280.9 585.0,280.3 586.0,279.8 587.0,279.3 588.0,278.7 589.0,278.2 590.0,277.6 591.0,277.1 592.0,276.5 593.0,276.0 594.0,275.4 595.0,274.9 596.0,274.3 597.0,273.8 598.0,273.2 599.0,272.7 600.0,272.1 601.0,271.5 602.0,271.0 603.0,270.4 604.0,269.9 605.0,269.3 606.0,268.7 607.0,268.2 608.0,267.6 609.0,267.1 610.0,266.5 611.0,265.9 612.0,265.4 613.0,264.8 614.0,264.2 615.0,263.7 616.0,263.1 617.0,262.5 618.0,262.0 619.0,261.4 620.0,260.8 621.0,260.2 622.0,259.7 623.0,259.1 624.0,258.5 625.0,258.0 626.0,257.4 627.0,256.8 628.0,256.2 629.0,255.7 630.0,255.1 631.0,254.5 632.0,253.9 633.0,253.4 634.0,252.8 635.0,252.2 636.0,251.6 637.0,251.1 638.0,250.5 639.0,249.9 640.0,249.4 641.0,248.8 642.0,248.2 643.0,247.7 644.0,247.1 645.0,246.5 646.0,246.0 647.0,245.4 648.0,244.9 649.0,244.3 650.0,243.7 651.0,243.2 652.0,242.6 653.0,242.0 654.0,241.5 655.0,240.9 656.0,240.3 657.0,239.8 658.0,239.2 659.0,238.6 660.0,238.0 661.0,237.5 662.0,236.9 663.0,236.3 664.0,235.7 665.0,235.2 666.0,234.6 667.0,234.0 668.0,233.5 669.0,232.9 670.0,232.3 671.0,231.7 672.0,231.2 672.2,231.1 672.2,248.7 672.0,248.7 671.0,249.1 670.0,249.5 669.0,249.9 668.0,250.3 667.0,250.7 666.0,251.1 665.0,251.5 664.0,251.9 663.0,252.3 662.0,252.7 661.0,253.1 660.0,253.5 659.0,253.9 658.0,254.3 657.0,254.8 656.0,255.2 655.0,255.6 654.0,256.1 653.0,256.5 652.0,257.0 651.0,257.4 650.0,257.9 649.0,258.3 648.0,258.8 647.0,259.2 646.0,259.7 645.0,260.2 644.0,260.6 643.0,261.1 642.0,261.6 641.0,262.0 640.0,262.5 639.0,263.0 638.0,263.4 637.0,263.9 636.0,264.3 635.0,264.8 634.0,265.3 633.0,265.7 632.0,266.2 631.0,266.6 630.0,267.1 629.0,267.5 628.0,268.0 627.0,268.5 626.0,268.9 625.0,269.4 624.0,269.8 623.0,270.3 622.0,270.7 621.0,271.2 620.0,271.6 619.0,272.0 618.0,272.5 617.0,272.9 616.0,273.4 615.0,273.8 614.0,274.2 613.0,274.7 612.0,275.1 611.0,275.5 610.0,276.0 609.0,276.4 608.0,276.8 607.0,277.2 606.0,277.7 605.0,278.1 604.0,278.5 603.0,278.9 602.0,279.3 601.0,279.7 600.0,280.1 599.0,280.5 598.0,280.9 597.0,281.3 596.0,281.7 595.0,282.1 594.0,282.5 593.0,282.9 592.0,283.3 591.0,283.7 590.0,284.1 589.0,284.5 588.0,284.9 587.0,285.3 586.0,285.7 585.0,286.1 584.0,286.5 583.0,286.9 582.0,287.3 581.0,287.7 580.0,288.1 579.0,288.5 578.0,288.9 577.0,289.3 576.0,289.7 575.0,290.1 574.0,290.4 573.0,290.8 572.0,291.2 571.0,291.6 570.0,292.0 569.0,292.4 568.0,292.8 567.0,293.2 566.0,293.6 565.0,294.1 564.0,294.5 563.0,294.9 562.0,295.3 561.0,295.7 560.0,296.2 559.0,296.6 558.0,297.0 557.0,297.5 556.0,297.9 555.0,298.3 554.0,298.8 553.0,299.2 552.0,299.7 551.0,300.1 550.0,300.6 549.0,301.1 548.0,301.6 547.0,302.1 546.0,302.6 545.0,303.1 544.0,303.6 543.0,304.1 542.0,304.6 541.0,305.2 540.0,305.7 539.0,306.2 538.0,306.7 537.0,307.3 536.0,307.8 535.0,308.4 534.0,308.9 533.0,309.4 532.0,310.0 531.0,310.5 530.0,311.1 529.0,311.6 528.0,312.2 527.0,312.8 526.0,313.3 525.0,313.9 524.0,314.4 523.0,315.0 522.0,315.6 521.0,316.1 520.0,316.7 519.0,317.2 518.0,317.8 517.0,318.4 516.0,318.9 515.0,319.5 514.0,320.1 513.0,320.7 512.0,321.2 511.0,321.8 510.0,322.4 509.0,323.0 508.0,323.5 507.0,324.1 506.0,324.7 505.0,325.3 504.0,325.9 503.0,326.4 502.0,327.0 501.0,327.6 500.0,328.2 499.0,328.8 498.0,329.3 497.0,329.9 496.0,330.5 495.0,331.1 494.0,331.6 493.0,332.2 492.0,332.8 491.0,333.4 490.0,334.0 489.0,334.5 488.0,335.1 487.0,335.7 486.0,336.3 485.0,336.9 484.0,337.5 483.0,338.1 482.0,338.7 481.0,339.3 480.0,339.9 479.0,340.5 478.0,341.1 477.0,341.7 476.0,342.4 475.0,343.0 474.0,343.6 473.0,344.3 472.0,344.9 471.0,345.6 470.0,346.2 469.0,346.9 468.0,347.5 467.0,348.2 466.0,348.8 465.0,349.5 464.0,350.2 463.0,350.8 462.0,351.5 461.0,352.2 460.0,352.8 459.0,353.5 458.0,354.2 457.0,354.9 456.0,355.5 455.0,356.2 454.0,356.9 453.0,357.6 452.0,358.3 451.0,359.0 450.0,359.6 449.0,360.3 448.0,361.0 447.0,361.7 446.0,362.4 445.0,363.1 444.0,363.8 443.0,364.5 442.0,365.2 441.0,365.9 440.0,366.6 439.0,367.4 438.0,368.1 437.0,368.8 436.0,369.5 435.0,370.2 434.0,370.9 433.0,371.6 432.0,372.3 431.0,373.1 430.0,373.8 429.0,374.5 428.0,375.2 427.0,375.9 426.0,376.7 425.0,377.4 424.0,378.1 423.0,378.9 422.0,379.6 421.0,380.3 420.0,381.1 419.0,381.8 418.0,382.5 417.0,383.3 416.0,384.0 415.0,384.8 414.0,385.5"/>
<polyline fill="none" stroke="#000" stroke-width="1.65" stroke-linejoin="round" points="414.0,373.5 415.0,372.9 416.0,372.4 417.0,371.8 418.0,371.3 419.0,370.7 420.0,370.1 421.0,369.6 422.0,369.0 423.0,368.4 424.0,367.8 425.0,367.3 426.0,366.7 427.0,366.1 428.0,365.5 429.0,365.0 430.0,364.4 431.0,363.8 432.0,363.2 433.0,362.6 434.0,362.0 435.0,361.5 436.0,360.9 437.0,360.3 438.0,359.7 439.0,359.1 440.0,358.5 441.0,357.9 442.0,357.3 443.0,356.8 444.0,356.2 445.0,355.6 446.0,355.0 447.0,354.4 448.0,353.8 449.0,353.2 450.0,352.6 451.0,352.0 452.0,351.4 453.0,350.8 454.0,350.2 455.0,349.6 456.0,349.0 457.0,348.5 458.0,347.9 459.0,347.3 460.0,346.7 461.0,346.1 462.0,345.5 463.0,344.9 464.0,344.3 465.0,343.7 466.0,343.1 467.0,342.6 468.0,342.0 469.0,341.4 470.0,340.8 471.0,340.2 472.0,339.6 473.0,339.1 474.0,338.5 475.0,337.9 476.0,337.3 477.0,336.8 478.0,336.2 479.0,335.6 480.0,335.0 481.0,334.5 482.0,333.9 483.0,333.3 484.0,332.8 485.0,332.2 486.0,331.7 487.0,331.1 488.0,330.5 489.0,330.0 490.0,329.4 491.0,328.9 492.0,328.3 493.0,327.8 494.0,327.3 495.0,326.7 496.0,326.2 497.0,325.6 498.0,325.1 499.0,324.6 500.0,324.0 501.0,323.5 502.0,323.0 503.0,322.5 504.0,321.9 505.0,321.4 506.0,320.9 507.0,320.4 508.0,319.9 509.0,319.3 510.0,318.8 511.0,318.3 512.0,317.8 513.0,317.3 514.0,316.8 515.0,316.3 516.0,315.8 517.0,315.3 518.0,314.8 519.0,314.3 520.0,313.8 521.0,313.3 522.0,312.8 523.0,312.3 524.0,311.8 525.0,311.3 526.0,310.8 527.0,310.3 528.0,309.9 529.0,309.4 530.0,308.9 531.0,308.4 532.0,307.9 533.0,307.4 534.0,307.0 535.0,306.5 536.0,306.0 537.0,305.5 538.0,305.0 539.0,304.6 540.0,304.1 541.0,303.6 542.0,303.1 543.0,302.7 544.0,302.2 545.0,301.7 546.0,301.3 547.0,300.8 548.0,300.3 549.0,299.9 550.0,299.4 551.0,298.9 552.0,298.5 553.0,298.0 554.0,297.5 555.0,297.1 556.0,296.6 557.0,296.1 558.0,295.7 559.0,295.2 560.0,294.8 561.0,294.3 562.0,293.8 563.0,293.4 564.0,292.9 565.0,292.5 566.0,292.0 567.0,291.5 568.0,291.1 569.0,290.6 570.0,290.2 571.0,289.7 572.0,289.2 573.0,288.8 574.0,288.3 575.0,287.9 576.0,287.4 577.0,286.9 578.0,286.5 579.0,286.0 580.0,285.5 581.0,285.1 582.0,284.6 583.0,284.1 584.0,283.7 585.0,283.2 586.0,282.7 587.0,282.3 588.0,281.8 589.0,281.3 590.0,280.9 591.0,280.4 592.0,279.9 593.0,279.5 594.0,279.0 595.0,278.5 596.0,278.0 597.0,277.6 598.0,277.1 599.0,276.6 600.0,276.1 601.0,275.6 602.0,275.2 603.0,274.7 604.0,274.2 605.0,273.7 606.0,273.2 607.0,272.7 608.0,272.2 609.0,271.7 610.0,271.2 611.0,270.7 612.0,270.2 613.0,269.7 614.0,269.2 615.0,268.7 616.0,268.2 617.0,267.7 618.0,267.2 619.0,266.7 620.0,266.2 621.0,265.7 622.0,265.2 623.0,264.7 624.0,264.2 625.0,263.7 626.0,263.1 627.0,262.6 628.0,262.1 629.0,261.6 630.0,261.1 631.0,260.6 632.0,260.1 633.0,259.5 634.0,259.0 635.0,258.5 636.0,258.0 637.0,257.5 638.0,257.0 639.0,256.4 640.0,255.9 641.0,255.4 642.0,254.9 643.0,254.4 644.0,253.9 645.0,253.4 646.0,252.8 647.0,252.3 648.0,251.8 649.0,251.3 650.0,250.8 651.0,250.3 652.0,249.8 653.0,249.3 654.0,248.8 655.0,248.3 656.0,247.8 657.0,247.3 658.0,246.8 659.0,246.3 660.0,245.8 661.0,245.3 662.0,244.8 663.0,244.3 664.0,243.8 665.0,243.3 666.0,242.8 667.0,242.3 668.0,241.9 669.0,241.4 670.0,240.9 671.0,240.4 672.0,240.0 672.2,239.9"/>
<rect x="41.6" y="0.2" width="294.5" height="171.8" fill="none" stroke="#000" stroke-width="1.4"/>
<rect x="397.7" y="0.2" width="286.9" height="171.8" fill="none" stroke="#000" stroke-width="1.4"/>
<rect x="51.5" y="224.6" width="284.6" height="168.3" fill="none" stroke="#000" stroke-width="1.4"/>
<rect x="401.4" y="224.6" width="283.2" height="168.3" fill="none" stroke="#000" stroke-width="1.4"/>
<line x1="46.0" x2="46.0" y1="171.95" y2="176.04999999999998" stroke="#000" stroke-width="1.35"/>
<text x="46.0" y="188.2" text-anchor="middle" class="tk">1.10e+09</text>
<line x1="131.3" x2="131.3" y1="171.95" y2="176.04999999999998" stroke="#000" stroke-width="1.35"/>
<text x="131.3" y="188.2" text-anchor="middle" class="tk">1.15e+09</text>
<line x1="216.7" x2="216.7" y1="171.95" y2="176.04999999999998" stroke="#000" stroke-width="1.35"/>
<text x="216.7" y="188.2" text-anchor="middle" class="tk">1.20e+09</text>
<line x1="302.1" x2="302.1" y1="171.95" y2="176.04999999999998" stroke="#000" stroke-width="1.35"/>
<text x="302.1" y="188.2" text-anchor="middle" class="tk">1.25e+09</text>
<line x1="37.5" x2="41.6" y1="40.2" y2="40.2" stroke="#000" stroke-width="1.35"/>
<text x="34.6" y="45.3" text-anchor="end" class="tk">4</text>
<line x1="37.5" x2="41.6" y1="85.4" y2="85.4" stroke="#000" stroke-width="1.35"/>
<text x="34.6" y="90.5" text-anchor="end" class="tk">0</text>
<line x1="37.5" x2="41.6" y1="130.5" y2="130.5" stroke="#000" stroke-width="1.35"/>
<text x="34.6" y="135.6" text-anchor="end" class="tk">−4</text>
<line x1="409.7" x2="409.7" y1="171.95" y2="176.04999999999998" stroke="#000" stroke-width="1.35"/>
<text x="409.7" y="188.2" text-anchor="middle" class="tk">0.00</text>
<line x1="475.4" x2="475.4" y1="171.95" y2="176.04999999999998" stroke="#000" stroke-width="1.35"/>
<text x="475.4" y="188.2" text-anchor="middle" class="tk">0.25</text>
<line x1="541.2" x2="541.2" y1="171.95" y2="176.04999999999998" stroke="#000" stroke-width="1.35"/>
<text x="541.2" y="188.2" text-anchor="middle" class="tk">0.50</text>
<line x1="606.9" x2="606.9" y1="171.95" y2="176.04999999999998" stroke="#000" stroke-width="1.35"/>
<text x="606.9" y="188.2" text-anchor="middle" class="tk">0.75</text>
<line x1="672.7" x2="672.7" y1="171.95" y2="176.04999999999998" stroke="#000" stroke-width="1.35"/>
<text x="672.7" y="188.2" text-anchor="middle" class="tk">1.00</text>
<line x1="393.59999999999997" x2="397.7" y1="11.8" y2="11.8" stroke="#000" stroke-width="1.35"/>
<text x="390.7" y="16.9" text-anchor="end" class="tk">20</text>
<line x1="393.59999999999997" x2="397.7" y1="55.0" y2="55.0" stroke="#000" stroke-width="1.35"/>
<text x="390.7" y="60.1" text-anchor="end" class="tk">10</text>
<line x1="393.59999999999997" x2="397.7" y1="98.1" y2="98.1" stroke="#000" stroke-width="1.35"/>
<text x="390.7" y="103.2" text-anchor="end" class="tk">0</text>
<line x1="393.59999999999997" x2="397.7" y1="141.2" y2="141.2" stroke="#000" stroke-width="1.35"/>
<text x="390.7" y="146.3" text-anchor="end" class="tk">−10</text>
<line x1="54.3" x2="54.3" y1="392.9" y2="397.0" stroke="#000" stroke-width="1.35"/>
<text x="54.3" y="409.8" text-anchor="middle" class="tk">−3</text>
<line x1="110.0" x2="110.0" y1="392.9" y2="397.0" stroke="#000" stroke-width="1.35"/>
<text x="110.0" y="409.8" text-anchor="middle" class="tk">−2</text>
<line x1="165.7" x2="165.7" y1="392.9" y2="397.0" stroke="#000" stroke-width="1.35"/>
<text x="165.7" y="409.8" text-anchor="middle" class="tk">−1</text>
<line x1="221.5" x2="221.5" y1="392.9" y2="397.0" stroke="#000" stroke-width="1.35"/>
<text x="221.5" y="409.8" text-anchor="middle" class="tk">0</text>
<line x1="277.2" x2="277.2" y1="392.9" y2="397.0" stroke="#000" stroke-width="1.35"/>
<text x="277.2" y="409.8" text-anchor="middle" class="tk">1</text>
<line x1="332.9" x2="332.9" y1="392.9" y2="397.0" stroke="#000" stroke-width="1.35"/>
<text x="332.9" y="409.8" text-anchor="middle" class="tk">2</text>
<line x1="47.4" x2="51.5" y1="264.4" y2="264.4" stroke="#000" stroke-width="1.35"/>
<text x="44.5" y="269.5" text-anchor="end" class="tk">100</text>
<line x1="47.4" x2="51.5" y1="324.7" y2="324.7" stroke="#000" stroke-width="1.35"/>
<text x="44.5" y="329.8" text-anchor="end" class="tk">50</text>
<line x1="47.4" x2="51.5" y1="384.9" y2="384.9" stroke="#000" stroke-width="1.35"/>
<text x="44.5" y="390.0" text-anchor="end" class="tk">0</text>
<line x1="466.7" x2="466.7" y1="392.9" y2="397.0" stroke="#000" stroke-width="1.35"/>
<text x="466.7" y="409.8" text-anchor="middle" class="tk">−1</text>
<line x1="550.1" x2="550.1" y1="392.9" y2="397.0" stroke="#000" stroke-width="1.35"/>
<text x="550.1" y="409.8" text-anchor="middle" class="tk">0</text>
<line x1="633.8" x2="633.8" y1="392.9" y2="397.0" stroke="#000" stroke-width="1.35"/>
<text x="633.8" y="409.8" text-anchor="middle" class="tk">1</text>
<line x1="397.29999999999995" x2="401.4" y1="253.6" y2="253.6" stroke="#000" stroke-width="1.35"/>
<text x="394.4" y="258.7" text-anchor="end" class="tk">10</text>
<line x1="397.29999999999995" x2="401.4" y1="299.4" y2="299.4" stroke="#000" stroke-width="1.35"/>
<text x="394.4" y="304.5" text-anchor="end" class="tk">0</text>
<line x1="397.29999999999995" x2="401.4" y1="345.1" y2="345.1" stroke="#000" stroke-width="1.35"/>
<text x="394.4" y="350.2" text-anchor="end" class="tk">−10</text>
<line x1="397.29999999999995" x2="401.4" y1="390.9" y2="390.9" stroke="#000" stroke-width="1.35"/>
<text x="394.4" y="396.0" text-anchor="end" class="tk">−20</text>
<text id="T1" x="171.50" y="205.60" class="tt" style="font-size:15.6px">Time</text>
<text id="T2" x="485.50" y="205.60" textLength="109.19" lengthAdjust="spacing" class="tt" style="font-size:15.6px">Time of the year</text>
<text id="T3" y="426.70" class="tt"><tspan x="134.70" dy="0.00" style="font-size:15.0px">Temperatures</tspan><tspan x="233.35" dy="-1.25" style="font-size:11px">·</tspan><tspan x="240.50" dy="1.25" style="font-size:17.8px;font-family:'Liberation Serif','DejaVu Serif',serif">α</tspan><tspan x="249.80" dy="3.10" style="font-size:10.6px">t</tspan></text>
<text id="T4" y="426.70" class="tt"><tspan x="516.00" dy="0.00" style="font-size:15.0px">Lags</tspan><tspan x="551.75" dy="-1.25" style="font-size:11px">·</tspan><tspan x="558.60" dy="1.25" style="font-size:17.8px;font-family:'Liberation Serif','DejaVu Serif',serif">α</tspan><tspan x="568.10" dy="3.10" style="font-size:10.6px">l</tspan></text>
<text id="R1" transform="translate(13.00,114.80) rotate(-90)" textLength="53.17" lengthAdjust="spacing" class="tt" style="font-size:14.6px">f(Time)</text>
<text id="R2" transform="translate(362.70,148.30) rotate(-90)" textLength="124.61" lengthAdjust="spacing" class="tt" style="font-size:15.6px">f(Time of the year)</text>
<text id="R3" transform="translate(13.60,374.70) rotate(-90)" class="tt"><tspan x="0.00" dy="0.00" style="font-size:15.0px">s</tspan><tspan x="8.40" dy="0.00" style="font-size:15.0px">(</tspan><tspan x="15.00" dy="0.00" style="font-size:15.0px;letter-spacing:-0.27px">Temperatures</tspan><tspan x="106.65" dy="-1.25" style="font-size:11px">·</tspan><tspan x="112.20" dy="1.25" style="font-size:19.0px;font-family:'Liberation Serif','DejaVu Serif',serif">α</tspan><tspan x="123.30" dy="3.10" style="font-size:10.6px">t</tspan><tspan x="128.60" dy="-3.10" style="font-size:15.0px">)</tspan></text>
<text id="R4" transform="translate(363.60,344.30) rotate(-90)" class="tt"><tspan x="0.00" dy="0.00" style="font-size:14.9px">s</tspan><tspan x="7.60" dy="0.00" style="font-size:14.9px">(</tspan><tspan x="11.50" dy="0.00" style="font-size:14.9px">Lags</tspan><tspan x="46.65" dy="-1.25" style="font-size:11px">·</tspan><tspan x="52.10" dy="1.25" style="font-size:19.0px;font-family:'Liberation Serif','DejaVu Serif',serif">α</tspan><tspan x="62.20" dy="3.10" style="font-size:10.6px">l</tspan><tspan x="66.20" dy="-3.10" style="font-size:14.9px">)</tspan></text>
</svg>
</body>
</html>
